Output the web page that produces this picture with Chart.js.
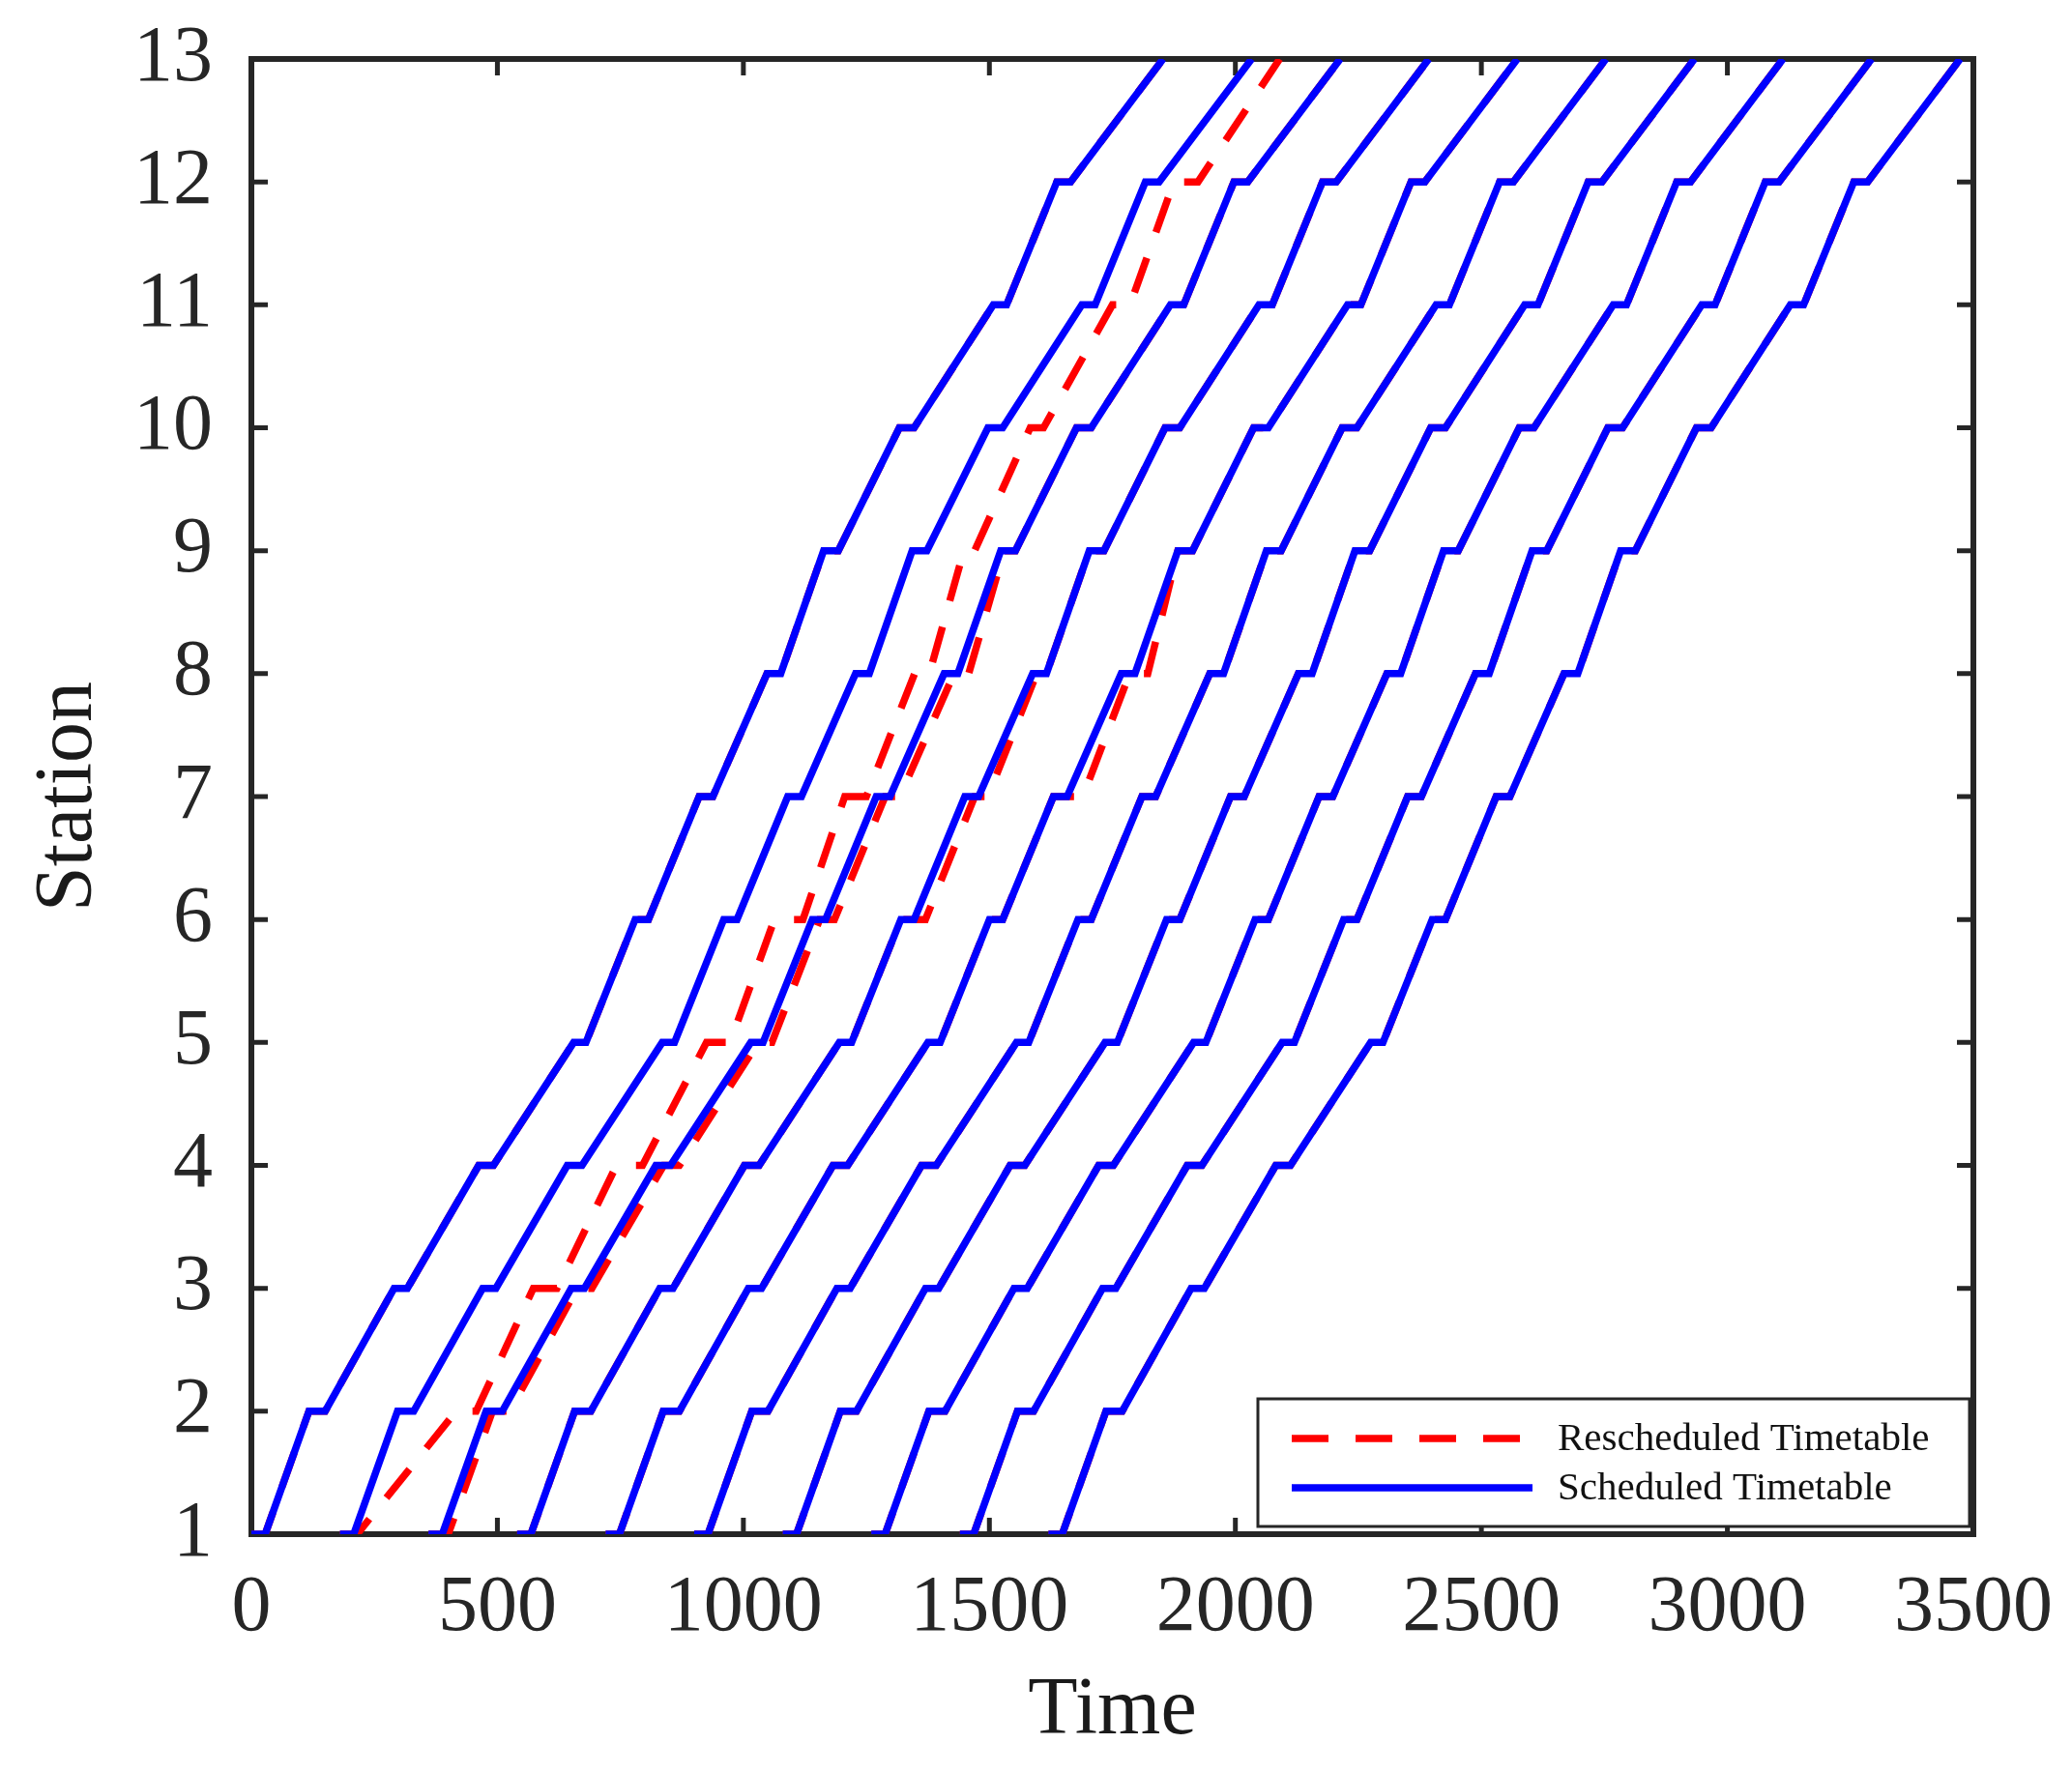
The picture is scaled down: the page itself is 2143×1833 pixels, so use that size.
<!DOCTYPE html>
<html>
<head>
<meta charset="utf-8">
<script src="https://cdn.jsdelivr.net/npm/chart.js@4.4.1/dist/chart.umd.min.js"></script>
<style>
  html, body { margin: 0; padding: 0; background: #fff; }
  canvas { display: block; }
</style>
</head>
<body>
<canvas id="graph" width="2143" height="1833"></canvas>
<script>
// station of each timetable point: arrive / depart at every station, arrive at 13
const stationStops = [1, 1, 2, 2, 3, 3, 4, 4, 5, 5, 6, 6, 7, 7, 8, 8, 9, 9, 10, 10, 11, 11, 12, 12, 13];

// scheduled timetable, one row of times (s) per train
const scheduled = [
    [0, 28, 117, 150, 290, 317, 462, 492, 655, 680, 780, 807, 910, 938, 1048, 1076, 1163, 1193, 1317, 1347, 1508, 1535, 1637, 1665, 1853],
    [180, 208, 297, 330, 470, 497, 642, 672, 835, 860, 960, 987, 1090, 1118, 1228, 1256, 1343, 1373, 1497, 1527, 1688, 1715, 1817, 1845, 2033],
    [360, 388, 477, 510, 650, 677, 822, 852, 1015, 1040, 1140, 1167, 1270, 1298, 1408, 1436, 1523, 1553, 1677, 1707, 1868, 1895, 1997, 2025, 2213],
    [540, 568, 657, 690, 830, 857, 1002, 1032, 1195, 1220, 1320, 1347, 1450, 1478, 1588, 1616, 1703, 1733, 1857, 1887, 2048, 2075, 2177, 2205, 2393],
    [720, 748, 837, 870, 1010, 1037, 1182, 1212, 1375, 1400, 1500, 1527, 1630, 1658, 1768, 1796, 1883, 1913, 2037, 2067, 2228, 2255, 2357, 2385, 2573],
    [900, 928, 1017, 1050, 1190, 1217, 1362, 1392, 1555, 1580, 1680, 1707, 1810, 1838, 1948, 1976, 2063, 2093, 2217, 2247, 2408, 2435, 2537, 2565, 2753],
    [1080, 1108, 1197, 1230, 1370, 1397, 1542, 1572, 1735, 1760, 1860, 1887, 1990, 2018, 2128, 2156, 2243, 2273, 2397, 2427, 2588, 2615, 2717, 2745, 2933],
    [1260, 1288, 1377, 1410, 1550, 1577, 1722, 1752, 1915, 1940, 2040, 2067, 2170, 2198, 2308, 2336, 2423, 2453, 2577, 2607, 2768, 2795, 2897, 2925, 3113],
    [1440, 1468, 1557, 1590, 1730, 1757, 1902, 1932, 2095, 2120, 2220, 2247, 2350, 2378, 2488, 2516, 2603, 2633, 2757, 2787, 2948, 2975, 3077, 3105, 3293],
    [1620, 1648, 1737, 1770, 1910, 1937, 2082, 2112, 2275, 2300, 2400, 2427, 2530, 2558, 2668, 2696, 2783, 2813, 2937, 2967, 3128, 3155, 3257, 3285, 3473]
];

// rescheduled timetable (trains 2-5 delayed, the rest as planned)
const rescheduled = [
    [0, 28, 117, 150, 290, 317, 462, 492, 655, 680, 780, 807, 910, 938, 1048, 1076, 1163, 1193, 1317, 1347, 1508, 1535, 1637, 1665, 1853],
    [180, 215, 416, 457, 573, 621, 742, 795, 925, 973, 1063, 1121, 1206, 1250, 1348, 1378, 1448, 1470, 1583, 1610, 1750, 1786, 1875, 1924, 2090],
    [360, 400, 490, 525, 662, 692, 838, 870, 1030, 1058, 1155, 1185, 1288, 1318, 1428, 1458, 1530, 1553, 1677, 1707, 1868, 1895, 1997, 2025, 2213],
    [540, 568, 657, 690, 830, 857, 1002, 1032, 1195, 1220, 1320, 1370, 1470, 1497, 1596, 1616, 1703, 1733, 1857, 1887, 2048, 2075, 2177, 2205, 2393],
    [720, 748, 837, 870, 1010, 1037, 1182, 1212, 1375, 1400, 1500, 1527, 1630, 1690, 1785, 1822, 1883, 1913, 2037, 2067, 2228, 2255, 2357, 2385, 2573],
    [900, 928, 1017, 1050, 1190, 1217, 1362, 1392, 1555, 1580, 1680, 1707, 1810, 1838, 1948, 1976, 2063, 2093, 2217, 2247, 2408, 2435, 2537, 2565, 2753],
    [1080, 1108, 1197, 1230, 1370, 1397, 1542, 1572, 1735, 1760, 1860, 1887, 1990, 2018, 2128, 2156, 2243, 2273, 2397, 2427, 2588, 2615, 2717, 2745, 2933],
    [1260, 1288, 1377, 1410, 1550, 1577, 1722, 1752, 1915, 1940, 2040, 2067, 2170, 2198, 2308, 2336, 2423, 2453, 2577, 2607, 2768, 2795, 2897, 2925, 3113],
    [1440, 1468, 1557, 1590, 1730, 1757, 1902, 1932, 2095, 2120, 2220, 2247, 2350, 2378, 2488, 2516, 2603, 2633, 2757, 2787, 2948, 2975, 3077, 3105, 3293],
    [1620, 1648, 1737, 1770, 1910, 1937, 2082, 2112, 2275, 2300, 2400, 2427, 2530, 2558, 2668, 2696, 2783, 2813, 2937, 2967, 3128, 3155, 3257, 3285, 3473]
];

const legendLabels = ['Rescheduled Timetable', 'Scheduled Timetable'];

const AXIS_COLOR = '#262626';
const SERIF = '"Liberation Serif", "DejaVu Serif", serif';
const LINE_W = 7.5;
const DASH = [38, 28];

const toPoints = (times) => times.map((t, i) => ({ x: t, y: stationStops[i] }));

const datasets = [];
rescheduled.forEach((times) => {
    datasets.push({
        label: legendLabels[0],
        data: toPoints(times),
        borderColor: '#ff0000',
        borderWidth: LINE_W,
        borderDash: DASH,
        order: 2
    });
});
scheduled.forEach((times) => {
    datasets.push({
        label: legendLabels[1],
        data: toPoints(times),
        borderColor: '#0000ff',
        borderWidth: LINE_W,
        order: 1
    });
});

// MATLAB-like box with inward ticks, drawn under the lines
const boxPlugin = {
    id: 'box',
    beforeDatasetsDraw(chart) {
        const { ctx, chartArea: a, scales } = chart;
        const len = 17;
        ctx.save();
        ctx.strokeStyle = AXIS_COLOR;
        ctx.lineWidth = 5;
        ctx.beginPath();
        scales.x.ticks.forEach(t => {
            const px = scales.x.getPixelForValue(t.value);
            ctx.moveTo(px, a.bottom); ctx.lineTo(px, a.bottom - len);
            ctx.moveTo(px, a.top); ctx.lineTo(px, a.top + len);
        });
        scales.y.ticks.forEach(t => {
            const py = scales.y.getPixelForValue(t.value);
            ctx.moveTo(a.left, py); ctx.lineTo(a.left + len, py);
            ctx.moveTo(a.right, py); ctx.lineTo(a.right - len, py);
        });
        ctx.stroke();
        ctx.lineWidth = 6;
        ctx.strokeRect(a.left, a.top, a.right - a.left, a.bottom - a.top);
        ctx.restore();
    }
};

const legendPlugin = {
    id: 'boxLegend',
    afterDraw(chart) {
        const { ctx, chartArea: a } = chart;
        const x0 = a.left + 1041, y0 = a.bottom - 140;
        const w = a.right - 4 - x0, h = 132;
        ctx.save();
        ctx.fillStyle = '#fff';
        ctx.fillRect(x0, y0, w, h);
        ctx.strokeStyle = AXIS_COLOR;
        ctx.lineWidth = 3;
        ctx.strokeRect(x0, y0, w, h);

        ctx.lineWidth = LINE_W;
        ctx.strokeStyle = '#ff0000';
        ctx.setLineDash(DASH);
        ctx.beginPath();
        ctx.moveTo(x0 + 35, y0 + 41); ctx.lineTo(x0 + 284, y0 + 41);
        ctx.stroke();
        ctx.setLineDash([]);
        ctx.strokeStyle = '#0000ff';
        ctx.beginPath();
        ctx.moveTo(x0 + 35, y0 + 92); ctx.lineTo(x0 + 284, y0 + 92);
        ctx.stroke();

        ctx.fillStyle = '#111';
        ctx.font = '41px ' + SERIF;
        ctx.textBaseline = 'middle';
        ctx.fillText(legendLabels[0], x0 + 310, y0 + 42);
        ctx.fillText(legendLabels[1], x0 + 310, y0 + 93);
        ctx.restore();
    }
};

const config = {
    type: 'line',
    data: { datasets: datasets },
    options: {
        responsive: false,
        animation: false,
        devicePixelRatio: 1,
        elements: {
            point: { radius: 0, hoverRadius: 0 },
            line: { tension: 0, fill: false, borderCapStyle: 'butt' }
        },
        layout: { padding: { left: 0, top: 61, right: 102, bottom: 0 } },
        plugins: {
            legend: { display: false },
            tooltip: { enabled: false }
        },
        scales: {
            x: {
                type: 'linear',
                min: 0,
                max: 3500,
                grid: { display: false, drawTicks: false },
                border: { display: false },
                ticks: {
                    stepSize: 500,
                    padding: 28,
                    color: AXIS_COLOR,
                    font: { family: SERIF, size: 82 },
                    callback: (v) => String(v)
                },
                title: {
                    display: true,
                    text: 'Time',
                    color: '#1a1a1a',
                    padding: { top: 0, bottom: 12 },
                    font: { family: SERIF, size: 84 }
                },
                afterFit: (scale) => {
                    scale.height = 246;
                    scale.paddingLeft = 0;
                    scale.paddingRight = 0;
                }
            },
            y: {
                type: 'linear',
                min: 1,
                max: 13,
                grid: { display: false, drawTicks: false },
                border: { display: false },
                ticks: {
                    stepSize: 1,
                    padding: 40,
                    color: AXIS_COLOR,
                    font: { family: SERIF, size: 82 }
                },
                title: {
                    display: true,
                    text: 'Station',
                    color: '#1a1a1a',
                    padding: { top: 22, bottom: 0 },
                    font: { family: SERIF, size: 84 }
                },
                afterFit: (scale) => {
                    scale.width = 260;
                    scale.paddingTop = 0;
                    scale.paddingBottom = 0;
                }
            }
        }
    },
    plugins: [boxPlugin, legendPlugin]
};

const graph = document.querySelector('#graph');
new Chart(graph, config);
</script>
</body>
</html>
